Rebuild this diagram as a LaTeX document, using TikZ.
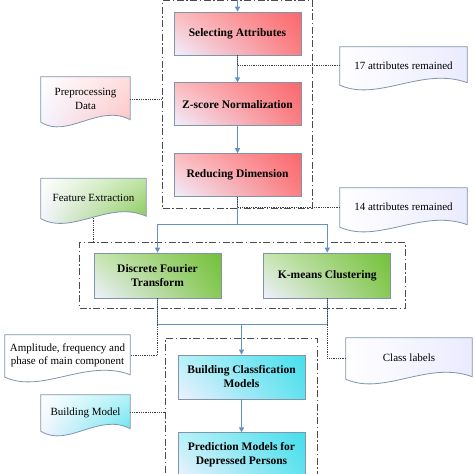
\documentclass[tikz,border=0pt]{standalone}
\usepackage{fontspec}
\setmainfont{Liberation Serif}
\usepackage{tikz}
\usetikzlibrary{arrows.meta, positioning, calc, fit, backgrounds, shadings}
\definecolor{boxred}{RGB}{250,104,108}
\definecolor{boxgreen}{RGB}{116,192,58}
\definecolor{boxcyan}{RGB}{70,222,236}
\definecolor{linkblue}{RGB}{96,146,196}
\definecolor{edgegray}{RGB}{128,148,170}
\tikzset{
    box/.style={rectangle, draw=edgegray, line width=0.8pt, minimum width=127pt, minimum height=43pt, align=center, font=\fontsize{11.5}{14}\selectfont\bfseries},
    redbox/.style={box, lower left=white!94!blue, upper left=boxred!45!white, upper right=boxred, lower right=boxred!85!white},
    greenbox/.style={box, minimum height=45pt, lower left=white!94!blue, upper left=boxgreen!40!white, upper right=boxgreen, lower right=boxgreen!85!white},
    cyanbox/.style={box, minimum height=44pt, lower left=white!94!blue, upper left=boxcyan!40!white, upper right=boxcyan, lower right=boxcyan!85!white},
    doc/.style={rectangle, align=center, inner sep=2pt, font=\fontsize{11}{13.5}\selectfont},
    frame/.style={draw=black!70, line width=0.8pt, dash pattern=on 7pt off 2.5pt on 1.5pt off 2.5pt, inner sep=11pt},
    arrow/.style={draw=linkblue, line width=0.9pt, -{Triangle[length=5pt,width=5pt]}},
    link/.style={draw=linkblue, line width=0.9pt},
    note/.style={draw=black!75, line width=0.8pt, densely dotted}
}
% document outline with wavy bottom, drawn behind the text
\newcommand{\docshape}[2]{%
  \begin{scope}[on background layer]
    \draw[draw=edgegray, line width=0.8pt, #2] (#1.north west) -- (#1.north east) -- ([yshift=1.5pt]#1.south east)
      .. controls ($(#1.south east)!0.35!(#1.south west)+(0,18pt)$) and ($(#1.south east)!0.7!(#1.south west)+(0,-18pt)$) .. ([yshift=-1pt]#1.south west) -- cycle;
  \end{scope}}

\begin{document}
\begin{tikzpicture}[x=1pt, y=-1pt]
    \useasboundingbox (0,0) rectangle (474,474);

    % preprocessing
    \coordinate (in) at (237.5,-12);
    \node[redbox] (sa) at (237.5,33.5) {Selecting Attributes};
    \node[redbox, below=27pt of sa] (zn) {Z-score Normalization};
    \node[redbox, below=27pt of zn] (rd) {Reducing Dimension};
    \node[frame, fit=(sa)(rd)] (f1) {};

    % feature extraction
    \node[greenbox] (dft) at (157.5,275.5) {Discrete Fourier\\Transform};
    \node[greenbox, right=42pt of dft] (km) {K-means Clustering};
    \node[frame, fit=(dft)(km), inner xsep=14pt, inner ysep=10pt] (f2) {};

    % building model
    \node[cyanbox] (bcm) at (241.5,377) {Building Classfication\\Models};
    \node[cyanbox, below=33pt of bcm] (pm) {Prediction Models for\\Depressed Persons};
    \coordinate (f3top) at ($(bcm.north)+(0,5pt)$);
    \node[frame, fit=(f3top)(bcm)(pm), inner xsep=12pt] (f3) {};

    % notes
    \node[doc, minimum width=89pt, minimum height=44pt] (pre) at (85.5,99) {Preprocessing\\Data};
    \node[doc, minimum width=127pt, minimum height=37pt] (att17) at (403.5,65.5) {17 attributes remained};
    \node[doc, minimum width=105pt, minimum height=39pt] (fe) at (93.5,198) {Feature Extraction};
    \node[doc, minimum width=127pt, minimum height=38pt] (att14) at (403.5,207) {14 attributes remained};
    \node[doc, minimum width=125pt, minimum height=41pt] (amp) at (67.5,355.5) {Amplitude, frequency and\\phase of main component};
    \node[doc, minimum width=126pt, minimum height=40pt] (cls) at (409,358) {Class labels};
    \node[doc, minimum width=89pt, minimum height=35pt] (bm) at (85.5,412.5) {Building Model};

    \docshape{pre}{upper left=white, lower left=blue!6!white, upper right=boxred!22!white, lower right=boxred!45!white}
    \docshape{att17}{left color=white, right color=blue!8!white}
    \docshape{fe}{upper left=white, lower left=blue!6!white, upper right=boxgreen!45!white, lower right=boxgreen}
    \docshape{att14}{left color=white, right color=blue!8!white}
    \docshape{amp}{fill=white}
    \docshape{cls}{left color=white, right color=blue!8!white}
    \docshape{bm}{upper left=white, lower left=blue!6!white, upper right=boxcyan!40!white, lower right=boxcyan}

    % flow
    \draw[arrow] (in) -- (sa);
    \draw[arrow] (sa) -- (zn);
    \draw[arrow] (zn) -- (rd);
    \draw[link] (rd.south) -- ++(0,-27pt) coordinate (split);
    \draw[arrow] (split) -| (dft);
    \draw[arrow] (split) -| (km);
    \draw[link] (dft.south) -- ++(0,-26pt) coordinate (merge) -- (merge -| km.south) -- (km.south);
    \draw[arrow] (merge -| bcm.north) -- (bcm);
    \draw[arrow] (bcm) -- (pm);

    % dotted notes
    \draw[note] (sa.south) |- (att17);
    \draw[note] (pre) -- (pre -| f1.west);
    \draw[note] (rd.south) |- (att14);
    \draw[note] (fe) -- (fe |- f2.north);
    \draw[note] (dft.south) |- (amp);
    \draw[note] (km.south) |- (cls);
    \draw[note] (bm) -- (bm -| f3.west);
\end{tikzpicture}
\end{document}
